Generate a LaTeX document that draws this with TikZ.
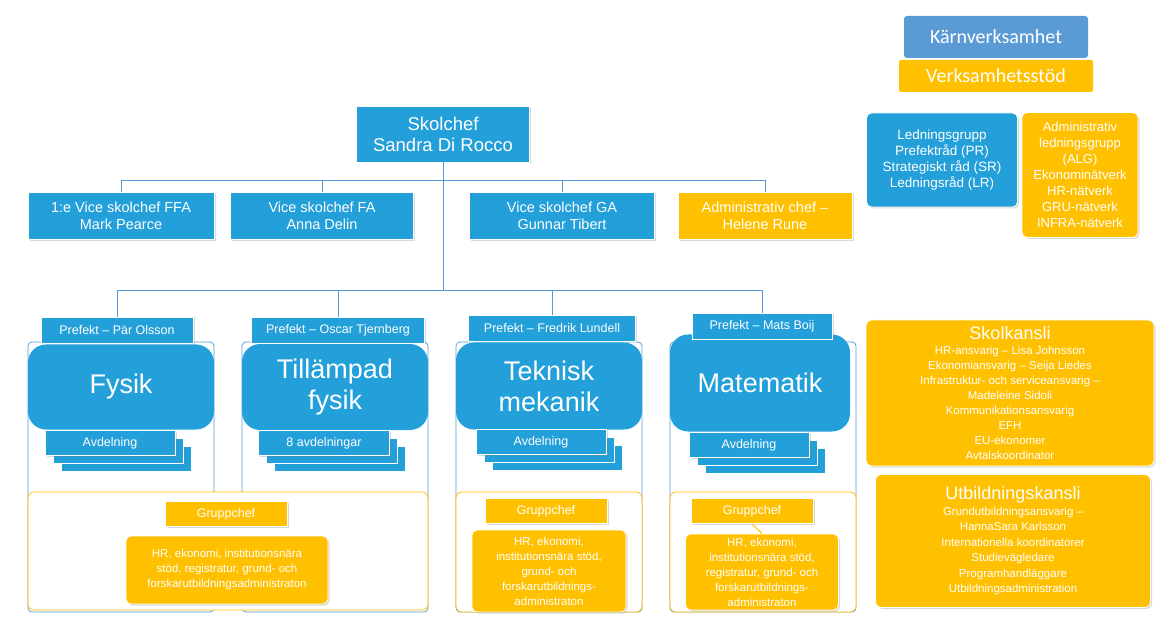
\documentclass[tikz,border=0pt]{standalone}
\usepackage{fontspec}
\setmainfont{Liberation Sans}
\newfontfamily\calfnt{Carlito}
\usetikzlibrary{shadows}
\definecolor{kblue}{HTML}{239FD9}
\definecolor{lblue}{HTML}{5B9BD5}
\definecolor{korange}{HTML}{FFC000}
\tikzset{
  bx/.style={fill=kblue,draw=white,line width=0.8pt,text=white,align=center,inner sep=1pt,
    drop shadow={opacity=0.3,shadow xshift=1.5pt,shadow yshift=-1.5pt}},
  ob/.style={bx,fill=korange},
  big/.style={fill=kblue,draw=none,text=white,align=center,rounded corners=18pt,font=\fontsize{27}{31}\selectfont},
  outl/.style={draw=lblue,line width=0.8pt,rounded corners=4pt},
  yout/.style={draw=korange,line width=0.8pt,rounded corners=6pt},
  ln/.style={draw=lblue,line width=0.9pt},
}
\begin{document}
\begin{tikzpicture}[x=1pt,y=-1pt]
\useasboundingbox (0,0) rectangle (1173,620);
% legend
\node[fill=lblue,rounded corners=3pt,text=white,minimum width=184pt,minimum height=42pt,font=\calfnt\fontsize{20}{22}\selectfont] (kv) at (996,37) {Kärnverksamhet};
\node[fill=korange,rounded corners=2pt,text=white,minimum width=194pt,minimum height=32pt,font=\calfnt\fontsize{20}{22}\selectfont] (vs) at (996,76) {Verksamhetsstöd};
% department outlines
\foreach \x/\n in {28/a,242/b,456/c,670/d}{
  \draw[outl] (\x,342) rectangle ++(186,270);
}
\draw[yout,fill=white] (28,492) rectangle (428,610);
\draw[yout,fill=white] (456,492) rectangle (642,612);
\draw[yout,fill=white] (670,492) rectangle (856,612);
% connectors coordinates
\coordinate (top) at (443,180);
\coordinate (mid) at (443,290);
\node[bx,minimum width=173pt,minimum height=56pt,font=\fontsize{18.5}{21}\selectfont] (sc) at (443,134) {Skolchef\\Sandra Di Rocco};
% vice
\tikzset{vb/.style={minimum height=47pt,font=\fontsize{14.5}{17}\selectfont}}
\node[bx,vb,minimum width=186pt] (v1) at (121,216) {1:e Vice skolchef FFA\\Mark Pearce};
\node[bx,vb,minimum width=183pt] (v2) at (322,216) {Vice skolchef FA\\Anna Delin};
\node[bx,vb,minimum width=185pt] (v3) at (562,216) {Vice skolchef GA\\Gunnar Tibert};
\node[ob,vb,minimum width=174pt] (v4) at (765,216) {Administrativ  chef –\\Helene Rune};
\draw[ln] (sc.south) -- (mid);
\draw[ln] (v1.north|-top) -- (v4.north|-top);
\foreach \v in {v1,v2,v3,v4} \draw[ln] (\v.north|-top) -- (\v.north);
% big dept boxes
\node[big,minimum width=186pt,minimum height=85pt] (d1) at (121,387) {Fysik};
\node[big,minimum width=186pt,minimum height=86pt] (d2) at (335,387) {Tillämpad\\fysik};
\node[big,minimum width=186pt,minimum height=87pt] (d3) at (549,386) {Teknisk\\mekanik};
\node[big,minimum width=180pt,minimum height=97pt] (d4) at (760,383) {Matematik};
% prefekt
\tikzset{pb/.style={minimum height=26pt,font=\fontsize{12.5}{14}\selectfont}}
\node[bx,pb,minimum width=152pt] (p1) at (117,330) {Prefekt – Pär Olsson};
\node[bx,pb,minimum width=173pt] (p2) at (338,330) {Prefekt – Oscar Tjernberg};
\node[bx,pb,minimum width=167pt] (p3) at (552,328) {Prefekt – Fredrik Lundell};
\node[bx,pb,minimum width=140pt] (p4) at (762,326) {Prefekt – Mats Boij};
\draw[ln] (p1.north|-mid) -- (p4.north|-mid);
\foreach \p in {p1,p2,p3,p4} \draw[ln] (\p.north|-mid) -- (\p.north);
% avdelning stacks
\foreach \x/\y/\w/\t/\n in {110/443/130/Avdelning/a1,324/443/131/8 avdelningar/a2,541/442/130/Avdelning/a3,749/445/120/Avdelning/a4}{
  \fill[kblue,draw=white] (\x-\w/2+16,\y-12.5+16) rectangle ++(\w,25);
  \fill[kblue,draw=white] (\x-\w/2+8,\y-12.5+8) rectangle ++(\w,25);
  \node[bx,minimum width=\w pt,minimum height=25pt,font=\fontsize{12.5}{14}\selectfont] (\n) at (\x,\y) {\t};
}
% gruppchef & HR
\tikzset{gc/.style={minimum height=25pt,minimum width=122pt,font=\fontsize{12.5}{14}\selectfont},
  hr/.style={rounded corners=5pt,font=\fontsize{11.5}{15}\selectfont}}
\node[ob,gc] (g1) at (226,514) {Gruppchef};
\node[ob,gc] (g2) at (546,511) {Gruppchef};
\node[ob,gc] (g3) at (752,511) {Gruppchef};
\node[ob,hr,minimum width=202pt,minimum height=68pt] (h1) at (227,570) {HR,  ekonomi, institutionsnära\\stöd, registratur, grund- och\\forskarutbildningsadministraton};
\node[ob,hr,minimum width=154pt,minimum height=82pt] (h2) at (549,571) {HR,  ekonomi,\\institutionsnära stöd,\\grund- och\\forskarutbildnings-\\administraton};
\node[ob,hr,minimum width=153pt,minimum height=76pt] (h3) at (762,572) {HR,  ekonomi,\\institutionsnära stöd,\\registratur, grund- och\\forskarutbildnings-\\administraton};
\draw[korange,line width=1pt] (g3.south) -- (h3.north);
% right panels
\node[bx,rounded corners=5pt,minimum width=151pt,minimum height=94pt,font=\fontsize{13.5}{16}\selectfont] (lg) at (942,160) {Ledningsgrupp\\Prefektråd  (PR)\\Strategiskt råd (SR)\\Ledningsråd (LR)};
\node[ob,rounded corners=5pt,minimum width=116pt,minimum height=125pt,font=\fontsize{13}{16}\selectfont] (alg) at (1080,175) {Administrativ\\ledningsgrupp\\(ALG)\\Ekonominätverk\\HR-nätverk\\GRU-nätverk\\INFRA-nätverk};
\node[ob,rounded corners=6pt,minimum width=288pt,minimum height=146pt,font=\fontsize{11.5}{15}\selectfont] (sk) at (1010,393) {{\fontsize{18}{20}\selectfont Skolkansli}\\HR-ansvarig – Lisa Johnsson\\Ekonomiansvarig – Seija Liedes\\Infrastruktur- och serviceansvarig –\\Madeleine Sidoli\\Kommunikationsansvarig\\EFH\\EU-ekonomer\\Avtalskoordinator};
\node[ob,rounded corners=6pt,minimum width=275pt,minimum height=133pt,font=\fontsize{11.5}{15.5}\selectfont] (uk) at (1013,541) {{\fontsize{18}{20}\selectfont Utbildningskansli}\\Grundutbildningsansvarig –\\HannaSara Karlsson\\Internationella koordinatorer\\Studievägledare\\Programhandläggare\\Utbildningsadministration};
\end{tikzpicture}
\end{document}
